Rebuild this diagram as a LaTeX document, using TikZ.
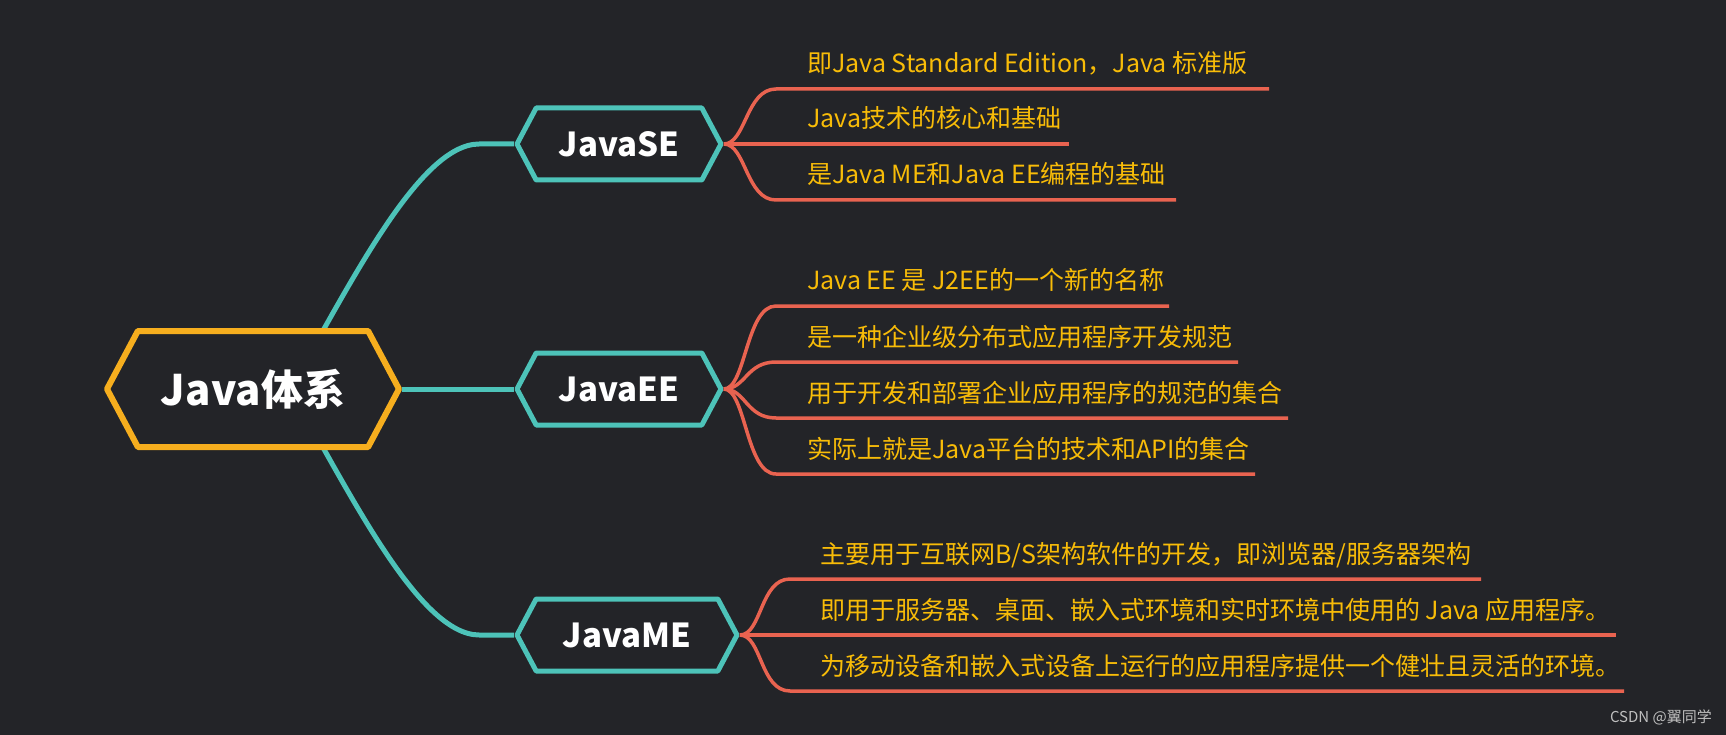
\documentclass[tikz,border=0pt]{standalone}
\usepackage{fontspec}
\setmainfont{Noto Sans CJK SC}
\usepackage{xcolor}
\usepackage{tikz}
\usetikzlibrary{shapes.symbols,positioning,calc}
\definecolor{board}{RGB}{35,36,40}
\definecolor{sea}{RGB}{77,195,185}
\definecolor{amber}{RGB}{246,174,30}
\definecolor{coral}{RGB}{233,99,80}
\definecolor{gold}{RGB}{248,188,8}
\pgfdeclarelayer{back}
\pgfdeclarelayer{links}
\pgfsetlayers{back,links,main}
\tikzstyle{hexbox} = [signal, signal to=east and west, signal pointer angle=124, draw=sea, line width=5pt, line join=round, fill=board, text=white, inner sep=0pt, minimum width=204pt, minimum height=72pt, font=\bfseries\fontsize{33}{38}\selectfont]
\tikzstyle{rootbox} = [hexbox, draw=amber, line width=6pt, minimum width=292pt, minimum height=116pt, font=\bfseries\fontsize{42}{48}\selectfont]
\tikzstyle{trunk} = [draw=sea, line width=5pt]
\tikzstyle{twig} = [draw=coral, line width=3.5pt]
\tikzstyle{leaf} = [anchor=base west, inner sep=0pt, text=gold, font=\fontsize{25}{29}\selectfont]
\tikzstyle{watermark} = [anchor=east, inner sep=0pt, text=black!25, font=\fontsize{15}{18}\selectfont]

\begin{document}
\begin{tikzpicture}[x=1pt, y=-1pt]

\begin{pgfonlayer}{back}
\path [use as bounding box, fill=board] (0,0) rectangle (1726,735);
\end{pgfonlayer}

\node [rootbox] (root) at (253,389) {Java体系};
\node [hexbox] (ee) at (619,389) {JavaEE};
\node [hexbox] (se) at (619,144) {JavaSE};
\node [hexbox, minimum width=220pt] (me) at (627,635) {JavaME};

\begin{pgfonlayer}{links}
\coordinate (hub) at ($(root.center)+(37,0)$);
\path [trunk] (hub) .. controls +(60,-104) and +(-60,0) .. ($(se.west)+(-35,0)$) -- (se.west);
\path [trunk] (root.east) -- (ee.west);
\path [trunk] (hub) .. controls +(60,104) and +(-60,0) .. ($(me.west)+(-35,0)$) -- (me.west);

% JavaSE
\node [leaf] (se1) at (807,73) {即Java Standard Edition，Java 标准版};
\node [leaf] (se2) at (807,128) {Java技术的核心和基础};
\node [leaf] (se3) at (807,184) {是Java ME和Java EE编程的基础};
\path [twig] (se.east) .. controls +(22,0) and +(-30,0) .. ($(se1.base west)+(-31,16)$) -- ($(se1.base west)+(462,16)$);
\path [twig] (se.east) -- ($(se2.base west)+(262,16)$);
\path [twig] (se.east) .. controls +(22,0) and +(-30,0) .. ($(se3.base west)+(-31,16)$) -- ($(se3.base west)+(369,16)$);

% JavaEE
\node [leaf] (ee1) at (807,290) {Java EE 是 J2EE的一个新的名称};
\node [leaf] (ee2) at (807,346) {是一种企业级分布式应用程序开发规范};
\node [leaf] (ee3) at (807,402) {用于开发和部署企业应用程序的规范的集合};
\node [leaf] (ee4) at (807,458) {实际上就是Java平台的技术和API的集合};
\path [twig] (ee.east) .. controls +(22,0) and +(-30,0) .. ($(ee1.base west)+(-31,16)$) -- ($(ee1.base west)+(362,16)$);
\path [twig] (ee.east) .. controls +(22,0) and +(-30,0) .. ($(ee2.base west)+(-31,16)$) -- ($(ee2.base west)+(431,16)$);
\path [twig] (ee.east) .. controls +(22,0) and +(-30,0) .. ($(ee3.base west)+(-31,16)$) -- ($(ee3.base west)+(481,16)$);
\path [twig] (ee.east) .. controls +(22,0) and +(-30,0) .. ($(ee4.base west)+(-31,16)$) -- ($(ee4.base west)+(448,16)$);

% JavaME
\node [leaf] (me1) at (820,563) {主要用于互联网B/S架构软件的开发，即浏览器/服务器架构};
\node [leaf] (me2) at (820,619) {即用于服务器、桌面、嵌入式环境和实时环境中使用的 Java 应用程序。};
\node [leaf] (me3) at (820,675) {为移动设备和嵌入式设备上运行的应用程序提供一个健壮且灵活的环境。};
\path [twig] (me.east) .. controls +(22,0) and +(-30,0) .. ($(me1.base west)+(-30,16)$) -- ($(me1.base west)+(661,16)$);
\path [twig] (me.east) -- ($(me2.base west)+(796,16)$);
\path [twig] (me.east) .. controls +(22,0) and +(-30,0) .. ($(me3.base west)+(-30,16)$) -- ($(me3.base west)+(804,16)$);
\end{pgfonlayer}

\node [watermark] (credit) at (1712,717) {CSDN @翼同学};

\end{tikzpicture}
\end{document}
